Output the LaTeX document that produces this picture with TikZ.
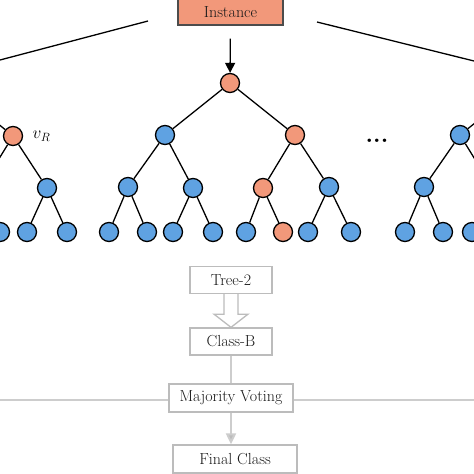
\documentclass[tikz,border=0pt]{standalone}
\usepackage{amsmath,amssymb}
\usepackage{tikz}
\usetikzlibrary{calc, arrows.meta, positioning}
\definecolor{Salmon}{RGB}{242,152,122}
\definecolor{SkyBlue}{RGB}{95,162,226}
\definecolor{BoxGray}{RGB}{188,188,188}
\definecolor{LineGray}{RGB}{205,205,205}
\definecolor{InkGray}{RGB}{25,25,25}

\begin{document}
\begin{tikzpicture}[x=1pt, y=-1pt,
        onode/.style={circle, draw, line width=1.3pt, fill=Salmon, minimum size=19pt, inner sep=0pt},
        bnode/.style={onode, fill=SkyBlue},
        edge/.style={line width=1.3pt},
        flowbox/.style={draw=BoxGray, line width=1.3pt, fill=white, minimum width=82pt, minimum height=27pt, inner sep=0pt, text=InkGray, font=\fontsize{16}{18}\selectfont},
        flowline/.style={draw=LineGray, line width=2pt}]
                \useasboundingbox (0,0) rectangle (474,474);
                \clip (0,0) rectangle (474,474);
                % instance box and the lines to the side trees
                \node[draw=black!70, line width=1.2pt, fill=Salmon, minimum width=105pt, minimum height=26pt, inner sep=0pt, text=InkGray, font=\fontsize{16}{18}\selectfont] (inst) at (230.5,12) {Instance};
                \coordinate (instL) at (148,21);
                \coordinate (instR) at (317,22);
                \coordinate (farL) at (0,60);
                \coordinate (farR) at (474,61);
                \draw[edge] (instL) -- (farL);
                \draw[edge] (instR) -- (farR);
                % middle tree
                \node[onode] (m) at (230,83) {};
                \node[bnode] (ml) at (165,135) {};
                \node[onode] (mr) at (295,135) {};
                \node[bnode] (mll) at (128,187) {};
                \node[bnode] (mlr) at (193,188) {};
                \node[onode] (mrl) at (263,188) {};
                \node[bnode] (mrr) at (329,187) {};
                \node[bnode] (mll1) at (109,232) {};
                \node[bnode] (mll2) at (147,232) {};
                \node[bnode] (mlr1) at (173,232) {};
                \node[bnode] (mlr2) at (213,232) {};
                \node[bnode] (mrl1) at (246,232) {};
                \node[onode] (mrl2) at (283,232) {};
                \node[bnode] (mrr1) at (308,232) {};
                \node[bnode] (mrr2) at (351,232) {};
                \draw[edge] (m) -- (ml); \draw[edge] (m) -- (mr);
                \draw[edge] (ml) -- (mll); \draw[edge] (ml) -- (mlr);
                \draw[edge] (mr) -- (mrl); \draw[edge] (mr) -- (mrr);
                \draw[edge] (mll) -- (mll1); \draw[edge] (mll) -- (mll2);
                \draw[edge] (mlr) -- (mlr1); \draw[edge] (mlr) -- (mlr2);
                \draw[edge] (mrl) -- (mrl1); \draw[edge] (mrl) -- (mrl2);
                \draw[edge] (mrr) -- (mrr1); \draw[edge] (mrr) -- (mrr2);
                \draw[edge, -{Triangle[length=10pt,width=10pt]}, shorten <=13pt] (inst) -- (m);
                % left tree (cut by the frame)
                \coordinate (lroot) at (-52,83);
                \coordinate (lba) at (-19,188);
                \node[onode] (lb) at (13,136) {};
                \node[right=6pt of lb, font=\fontsize{18}{20}\selectfont] (vr) {$v_R$};
                \node[bnode] (lbb) at (47,188) {};
                \node[bnode] (lba2) at (0,232) {};
                \node[bnode] (lbb1) at (27,232) {};
                \node[bnode] (lbb2) at (67,232) {};
                \draw[edge] (lroot) -- (lb);
                \draw[edge] (lb) -- (lba); \draw[edge] (lb) -- (lbb);
                \draw[edge] (lba) -- (lba2);
                \draw[edge] (lbb) -- (lbb1); \draw[edge] (lbb) -- (lbb2);
                % right tree (cut by the frame)
                \coordinate (rroot) at (525,83);
                \coordinate (rab) at (492,187);
                \node[bnode] (ra) at (460,135) {};
                \node[bnode] (raa) at (424,187) {};
                \node[bnode] (raa1) at (405,232) {};
                \node[bnode] (raa2) at (443,232) {};
                \node[bnode] (rab1) at (472,232) {};
                \draw[edge] (rroot) -- (ra);
                \draw[edge] (ra) -- (raa); \draw[edge] (ra) -- (rab);
                \draw[edge] (raa) -- (raa1); \draw[edge] (raa) -- (raa2);
                \draw[edge] (rab) -- (rab1);
                \node[font=\fontsize{24}{26}\selectfont\bfseries] (dots) at (377,141) {...};
                % voting flow
                \node[flowbox] (tree) at (231,280) {Tree-2};
                \node[flowbox] (cls) at (231,341.5) {Class-B};
                \node[flowbox, minimum width=124pt, minimum height=28pt] (vote) at (231,398) {Majority Voting};
                \node[flowbox, minimum width=124pt, minimum height=28pt] (final) at (235,459) {Final Class};
                \draw[draw=BoxGray, line width=1.3pt, fill=white] ($(tree.south)+(-7,0)$) -- ($(tree.south)+(-7,20)$) -- ($(tree.south)+(-17,20)$) -- (cls.north) -- ($(tree.south)+(17,20)$) -- ($(tree.south)+(7,20)$) -- ($(tree.south)+(7,0)$);
                \draw[flowline] (cls) -- (vote);
                \coordinate (voteL) at (0,400);
                \coordinate (voteR) at (474,400);
                \draw[flowline] (voteL) -- (vote.west |- voteL);
                \draw[flowline] (vote.east |- voteR) -- (voteR);
                \draw[flowline, -{Triangle[length=11pt,width=10pt,fill=BoxGray]}] (vote) -- (vote.south |- final.north);
\end{tikzpicture}
\end{document}
